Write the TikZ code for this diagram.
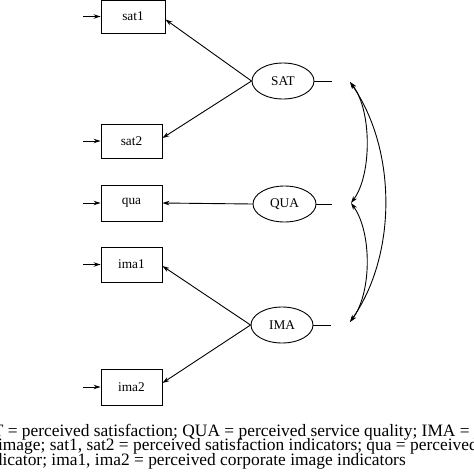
\documentclass[tikz,border=0pt]{standalone}
\usepackage{fontspec}
\setmainfont{Liberation Serif}
\usetikzlibrary{arrows.meta,shapes.geometric}
\begin{document}
\begin{tikzpicture}[x=1pt,y=-1pt,
  obs/.style={draw,line width=0.9pt,rectangle,inner sep=0pt,minimum width=61pt,minimum height=35pt,font=\fontsize{13.3}{15}\selectfont},
  lat/.style={draw,line width=0.9pt,ellipse,inner sep=0pt,minimum width=62pt,minimum height=36pt,font=\fontsize{13.3}{15}\selectfont},
  arrowin/.style={-{Stealth[length=7pt,width=4.5pt]}},
  conn/.style={line width=0.9pt},
  cov/.style={line width=0.9pt,{Stealth[length=7pt,width=4.5pt]}-{Stealth[length=7pt,width=4.5pt]}},
  captext/.style={anchor=base west,inner sep=0pt,font=\fontsize{17.4}{18}\selectfont}]
\useasboundingbox (0,0) rectangle (474,474);
\clip (0,0) rectangle (474,474);
% observed
\node[obs,minimum width=64pt,minimum height=33pt] (sat1) at (133,16.5) {sat1};
\node[obs,minimum height=34pt] (sat2) at (131.5,141) {sat2};
\node[obs,minimum height=36pt] (qua) at (131.5,203) {qua};
\node[obs] (ima1) at (131.5,264.5) {ima1};
\node[obs,minimum height=36pt] (ima2) at (131.5,387) {ima2};
% latent
\node[lat] (SAT) at (283,81) {SAT};
\node[lat,minimum width=63pt] (QUA) at (284.5,204) {QUA};
\node[lat] (IMA) at (282,325) {IMA};
% error coordinates
\coordinate (e1) at (83,16.5);
\coordinate (e2) at (83,141);
\coordinate (e3) at (83,203);
\coordinate (e4) at (83,264.5);
\coordinate (e5) at (83,387);
\draw[conn,arrowin] (e1) -- (sat1.west);
\draw[conn,arrowin] (e2) -- (sat2.west);
\draw[conn,arrowin] (e3) -- (qua.west);
\draw[conn,arrowin] (e4) -- (ima1.west);
\draw[conn,arrowin] (e5) -- (ima2.west);
% loadings
\draw[conn,arrowin] (SAT.west) -- ([yshift=-3pt]sat1.east);
\draw[conn,arrowin] (SAT.west) -- ([yshift=3pt]sat2.east);
\draw[conn,arrowin] (QUA.west) -- (qua.east);
\draw[conn,arrowin] (IMA.west) -- ([yshift=-1.5pt]ima1.east);
\draw[conn,arrowin] (IMA.west) -- ([yshift=4pt]ima2.east);
% stubs
\coordinate (sS) at (332,81);
\coordinate (sQ) at (332,204);
\coordinate (sI) at (331,325);
\draw[conn] (SAT.east) -- (sS);
\draw[conn] (QUA.east) -- (sQ);
\draw[conn] (IMA.east) -- (sI);
% covariance ends
\coordinate (cS) at (350,82);
\coordinate (cQ) at (351,203);
\coordinate (cI) at (350,322);
\draw[cov] (cS) .. controls (372,110) and (372,175) .. (cQ);
\draw[cov] (cQ) .. controls (372,232) and (372,293) .. (cI);
\draw[cov] (cS) .. controls (397,150) and (397,255) .. (cI);
% caption
\node[captext] (l1) at (-27.7,436) {SAT = perceived satisfaction; QUA = perceived service quality; IMA = perceived};
\node[captext] (l2) at (-2.1,450.5) {image; sat1, sat2 = perceived satisfaction indicators; qua = perceived service};
\node[captext] (l3) at (-19.8,465) {indicator; ima1, ima2 = perceived corporate image indicators};
\end{tikzpicture}
\end{document}
